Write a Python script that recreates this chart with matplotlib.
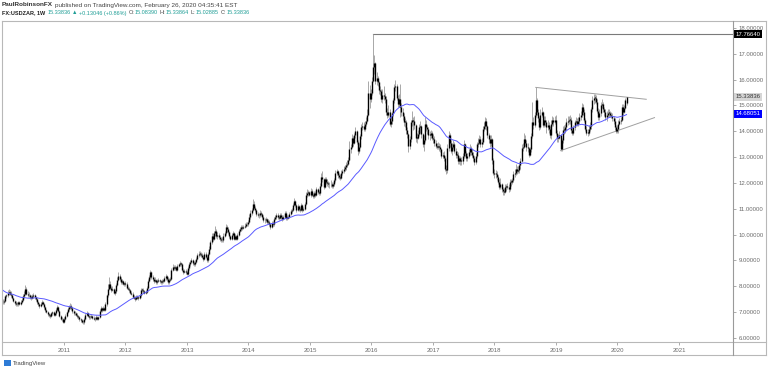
import matplotlib
matplotlib.use("Agg")
import matplotlib.pyplot as plt
import matplotlib.dates as mdates
from matplotlib.lines import Line2D
from matplotlib.patches import Rectangle
import numpy as np
import pandas as pd

plt.rcParams['font.family'] = ['Liberation Sans', 'DejaVu Sans']

# ---------------- data (weekly USDZAR) ----------------
first_week = "2010-01-04"
ma_period = 40

# closes before the visible range, only used to seed the moving average
warmup_closes = [8.95, 8.90, 8.80, 8.65, 8.45, 8.35, 8.25, 8.10, 7.95, 7.85,
                 8.05, 8.20, 8.05, 7.85, 8.10, 7.95, 7.85, 7.75, 7.90, 8.15, 8.05, 7.90, 7.85,
                 7.60, 7.45, 7.50, 7.45, 7.40, 7.35, 7.45, 7.75, 7.60, 7.50, 7.45, 7.60, 7.55,
                 7.50, 7.60, 7.55, 7.40]

close_2010 = [7.38, 7.45, 7.62, 7.65, 7.75, 7.78, 7.72, 7.68, 7.55, 7.42, 7.35, 7.32, 7.30, 7.38, 7.32, 7.40, 7.48,
              7.62, 7.72, 7.90, 7.72, 7.65, 7.68, 7.58, 7.55, 7.62, 7.68, 7.58, 7.50, 7.38, 7.30, 7.25, 7.32, 7.40,
              7.32, 7.20, 7.08, 7.02, 6.92, 6.88, 6.85, 6.95, 7.00, 6.90, 6.95, 7.10, 7.20, 7.05, 6.85, 6.75, 6.72, 6.63]
high_2010 = [7.50, 7.52, 7.68, 7.72, 7.85, 7.88, 7.85, 7.80, 7.72, 7.60, 7.48, 7.42, 7.40, 7.44, 7.42, 7.46, 7.55,
             7.70, 7.82, 8.05, 7.98, 7.80, 7.78, 7.72, 7.65, 7.72, 7.75, 7.72, 7.62, 7.55, 7.42, 7.36, 7.38, 7.48,
             7.45, 7.36, 7.24, 7.12, 7.06, 6.98, 6.94, 7.02, 7.06, 7.05, 7.02, 7.16, 7.28, 7.25, 7.08, 6.90, 6.80, 6.76]
low_2010 = [7.30, 7.32, 7.40, 7.55, 7.60, 7.68, 7.65, 7.60, 7.50, 7.38, 7.28, 7.25, 7.24, 7.25, 7.26, 7.28, 7.35,
            7.42, 7.55, 7.65, 7.65, 7.58, 7.58, 7.52, 7.48, 7.50, 7.55, 7.52, 7.44, 7.32, 7.22, 7.18, 7.20, 7.28,
            7.26, 7.14, 7.02, 6.96, 6.86, 6.82, 6.78, 6.80, 6.90, 6.84, 6.85, 6.90, 7.05, 7.00, 6.80, 6.70, 6.66, 6.58]

close_2011 = [6.75, 6.85, 7.00, 7.12, 7.20, 7.25, 7.15, 7.05, 6.95, 6.95, 6.90, 6.85, 6.80, 6.72, 6.68, 6.62, 6.60,
              6.75, 6.90, 6.95, 6.85, 6.80, 6.82, 6.85, 6.78, 6.75, 6.72, 6.80, 6.75, 6.80, 7.05, 7.15, 7.10, 7.15,
              7.10, 7.30, 7.65, 7.90, 8.10, 7.95, 7.85, 7.90, 7.75, 7.80, 8.05, 8.25, 8.40, 8.30, 8.15, 8.20, 8.10, 8.10]
high_2011 = [6.82, 6.92, 7.06, 7.20, 7.28, 7.35, 7.30, 7.20, 7.10, 7.04, 7.02, 6.96, 6.90, 6.85, 6.78, 6.74, 6.68,
             6.80, 6.96, 7.04, 7.00, 6.90, 6.88, 6.92, 6.90, 6.84, 6.80, 6.88, 6.85, 6.86, 7.12, 7.25, 7.20, 7.22,
             7.20, 7.38, 7.72, 8.10, 8.35, 8.20, 8.00, 8.00, 7.95, 7.88, 8.12, 8.35, 8.55, 8.48, 8.35, 8.30, 8.25, 8.18]
low_2011 = [6.58, 6.70, 6.80, 6.95, 7.06, 7.12, 7.08, 6.98, 6.88, 6.88, 6.84, 6.78, 6.74, 6.66, 6.62, 6.57, 6.55,
            6.56, 6.70, 6.86, 6.80, 6.74, 6.74, 6.76, 6.72, 6.70, 6.66, 6.68, 6.70, 6.70, 6.76, 7.00, 7.02, 7.04,
            7.04, 7.06, 7.25, 7.60, 7.85, 7.88, 7.78, 7.80, 7.70, 7.68, 7.75, 8.00, 8.20, 8.22, 8.08, 8.10, 8.05, 8.02]

close_2012 = [8.10, 7.95, 7.90, 7.85, 7.75, 7.72, 7.60, 7.55, 7.50, 7.60, 7.55, 7.55, 7.65, 7.85, 7.85, 7.80, 7.75,
              7.78, 7.95, 8.20, 8.35, 8.55, 8.35, 8.30, 8.20, 8.25, 8.15, 8.20, 8.25, 8.20, 8.15, 8.22, 8.20, 8.32,
              8.40, 8.30, 8.15, 8.25, 8.30, 8.65, 8.75, 8.70, 8.75, 8.65, 8.80, 8.85, 8.90, 8.85, 8.65, 8.55, 8.60,
              8.55, 8.48]
high_2012 = [8.20, 8.15, 8.00, 7.96, 7.90, 7.82, 7.78, 7.66, 7.62, 7.68, 7.66, 7.62, 7.72, 7.92, 7.95, 7.92, 7.86,
             7.84, 8.02, 8.28, 8.45, 8.65, 8.60, 8.42, 8.36, 8.35, 8.30, 8.28, 8.32, 8.30, 8.25, 8.30, 8.28, 8.40,
             8.48, 8.45, 8.35, 8.32, 8.38, 8.72, 8.85, 8.82, 8.82, 8.80, 8.88, 8.92, 8.98, 8.95, 8.90, 8.70, 8.68,
             8.66, 8.62]
low_2012 = [8.02, 7.90, 7.84, 7.78, 7.70, 7.66, 7.55, 7.50, 7.45, 7.46, 7.50, 7.48, 7.50, 7.60, 7.78, 7.74, 7.70,
            7.70, 7.74, 7.90, 8.15, 8.30, 8.28, 8.22, 8.14, 8.15, 8.08, 8.10, 8.15, 8.14, 8.08, 8.10, 8.14, 8.15,
            8.26, 8.22, 8.08, 8.10, 8.20, 8.25, 8.60, 8.62, 8.64, 8.58, 8.60, 8.74, 8.80, 8.78, 8.58, 8.48, 8.50,
            8.48, 8.42]

close_2013 = [8.70, 8.85, 8.95, 9.00, 8.90, 8.85, 8.95, 9.05, 9.20, 9.25, 9.25, 9.20, 9.15, 9.05, 9.25, 9.15, 9.00,
              9.25, 9.45, 9.70, 9.95, 9.85, 10.05, 10.15, 9.95, 10.00, 9.90, 9.85, 9.80, 9.78, 9.95, 10.05, 10.30,
              10.20, 10.10, 9.95, 9.85, 10.00, 10.05, 9.85, 9.95, 9.85, 10.00, 10.15, 10.20, 10.30, 10.25, 10.30,
              10.35, 10.40, 10.40, 10.50]
high_2013 = [8.78, 8.95, 9.02, 9.10, 9.05, 8.98, 9.02, 9.15, 9.28, 9.35, 9.35, 9.32, 9.28, 9.22, 9.32, 9.32, 9.20,
             9.32, 9.55, 9.80, 10.08, 10.05, 10.15, 10.35, 10.20, 10.10, 10.05, 9.98, 9.92, 9.90, 10.05, 10.15,
             10.40, 10.38, 10.28, 10.15, 10.00, 10.08, 10.15, 10.10, 10.02, 10.00, 10.08, 10.22, 10.30, 10.38,
             10.36, 10.38, 10.45, 10.48, 10.50, 10.58]
low_2013 = [8.45, 8.65, 8.80, 8.90, 8.82, 8.78, 8.80, 8.90, 9.00, 9.12, 9.18, 9.12, 9.08, 8.98, 9.00, 9.08, 8.95,
            8.95, 9.20, 9.40, 9.65, 9.75, 9.80, 9.95, 9.88, 9.85, 9.82, 9.75, 9.72, 9.70, 9.72, 9.90, 10.00, 10.12,
            10.02, 9.88, 9.78, 9.80, 9.95, 9.78, 9.80, 9.78, 9.80, 9.95, 10.10, 10.15, 10.18, 10.20, 10.25, 10.30,
            10.32, 10.35]

close_2014 = [10.70, 10.85, 10.95, 11.20, 11.05, 10.95, 10.80, 10.75, 10.75, 10.85, 10.80, 10.70, 10.55, 10.55,
              10.60, 10.50, 10.50, 10.40, 10.30, 10.45, 10.40, 10.60, 10.70, 10.75, 10.70, 10.65, 10.75, 10.70,
              10.60, 10.70, 10.85, 10.65, 10.65, 10.70, 10.80, 10.90, 10.95, 11.15, 11.30, 11.15, 10.95, 11.10,
              11.00, 10.95, 11.15, 10.95, 11.00, 11.20, 11.55, 11.60, 11.65, 11.55]
high_2014 = [10.80, 10.95, 11.05, 11.38, 11.30, 11.12, 11.00, 10.88, 10.85, 10.95, 10.92, 10.85, 10.75, 10.65,
             10.68, 10.65, 10.60, 10.55, 10.45, 10.52, 10.52, 10.68, 10.78, 10.85, 10.82, 10.78, 10.82, 10.82,
             10.75, 10.78, 10.92, 10.90, 10.75, 10.78, 10.88, 10.98, 11.05, 11.22, 11.40, 11.35, 11.20, 11.18,
             11.15, 11.08, 11.22, 11.20, 11.08, 11.28, 11.65, 11.75, 11.72, 11.70]
low_2014 = [10.45, 10.62, 10.78, 10.90, 10.98, 10.88, 10.72, 10.68, 10.65, 10.70, 10.72, 10.62, 10.48, 10.45,
            10.48, 10.42, 10.42, 10.32, 10.22, 10.25, 10.32, 10.35, 10.55, 10.62, 10.62, 10.58, 10.60, 10.62,
            10.52, 10.55, 10.65, 10.58, 10.58, 10.60, 10.65, 10.75, 10.85, 10.90, 11.10, 11.08, 10.88, 10.90,
            10.92, 10.88, 10.90, 10.88, 10.90, 10.95, 11.15, 11.45, 11.50, 11.48]

close_2015 = [11.70, 11.55, 11.50, 11.60, 11.55, 11.75, 11.65, 11.60, 11.90, 12.25, 12.15, 11.85, 12.15, 12.05,
              12.00, 11.95, 11.95, 11.95, 11.90, 11.95, 12.10, 12.40, 12.45, 12.30, 12.25, 12.20, 12.40, 12.45,
              12.55, 12.60, 12.70, 12.75, 12.90, 13.30, 13.40, 13.75, 13.55, 13.85, 14.00, 13.60, 13.25, 13.40,
              13.80, 14.15, 14.20, 14.10, 14.30, 14.40, 14.65, 15.50, 15.25, 15.50]
high_2015 = [11.80, 11.78, 11.62, 11.70, 11.68, 11.85, 11.82, 11.72, 12.00, 12.40, 12.45, 12.20, 12.25, 12.22,
             12.15, 12.08, 12.05, 12.10, 12.05, 12.05, 12.20, 12.50, 12.55, 12.50, 12.38, 12.35, 12.50, 12.55,
             12.65, 12.70, 12.80, 12.88, 13.02, 13.62, 13.52, 13.90, 13.80, 13.95, 14.15, 14.05, 13.65, 13.55,
             13.90, 14.28, 14.35, 14.35, 14.40, 14.55, 14.85, 15.95, 15.80, 15.65]
low_2015 = [11.45, 11.48, 11.40, 11.42, 11.45, 11.50, 11.58, 11.52, 11.55, 11.85, 12.05, 11.75, 11.80, 11.95,
            11.90, 11.85, 11.82, 11.85, 11.80, 11.82, 11.90, 12.05, 12.30, 12.20, 12.15, 12.10, 12.15, 12.32,
            12.38, 12.48, 12.52, 12.60, 12.68, 12.85, 13.15, 13.35, 13.45, 13.50, 13.75, 13.50, 13.10, 13.15,
            13.35, 13.70, 14.05, 14.00, 14.00, 14.20, 14.35, 14.60, 14.90, 15.15]

close_2016 = [15.95, 16.50, 16.65, 15.95, 16.05, 15.90, 15.60, 15.55, 15.25, 15.40, 15.35, 15.25, 14.75, 14.65,
              14.75, 14.30, 14.40, 14.70, 15.20, 15.70, 15.75, 15.30, 15.05, 15.25, 14.95, 14.75, 14.60, 14.35,
              14.35, 14.05, 13.90, 13.45, 13.70, 14.35, 14.45, 14.40, 14.25, 13.75, 13.75, 13.90, 14.15, 14.20,
              13.90, 13.50, 13.65, 14.30, 14.15, 14.10, 13.85, 13.85, 13.95, 13.75]
high_2016 = [16.10, 17.7664, 16.95, 16.70, 16.30, 16.15, 15.95, 15.75, 15.65, 15.65, 15.75, 15.50, 15.35, 14.90,
             15.00, 14.85, 14.60, 14.80, 15.30, 15.85, 16.00, 15.85, 15.40, 15.45, 15.85, 15.10, 14.90, 14.70,
             14.50, 14.45, 14.15, 13.95, 13.80, 14.45, 14.80, 14.55, 14.60, 14.30, 13.95, 14.05, 14.30, 14.40,
             14.25, 13.95, 13.85, 14.55, 14.45, 14.25, 14.15, 14.00, 14.05, 14.00]
low_2016 = [15.40, 15.90, 16.20, 15.85, 15.80, 15.75, 15.45, 15.40, 15.15, 15.10, 15.20, 15.10, 14.65, 14.50,
            14.55, 14.20, 14.15, 14.30, 14.60, 15.10, 15.55, 15.20, 14.95, 14.95, 14.55, 14.60, 14.45, 14.20,
            14.15, 13.90, 13.75, 13.20, 13.30, 13.60, 14.20, 14.05, 14.10, 13.60, 13.55, 13.70, 13.80, 13.95,
            13.75, 13.40, 13.25, 13.60, 14.00, 13.90, 13.70, 13.65, 13.75, 13.65]

close_2017 = [13.70, 13.55, 13.45, 13.40, 13.45, 13.40, 13.30, 13.05, 13.10, 12.95, 12.55, 12.50, 13.35, 13.85,
              13.55, 13.25, 13.40, 13.50, 13.25, 13.10, 13.10, 12.85, 12.95, 12.85, 12.85, 13.05, 13.50, 13.15,
              12.95, 13.05, 13.20, 13.35, 13.20, 13.10, 12.95, 12.80, 13.05, 13.50, 13.55, 13.70, 13.50, 13.60,
              14.10, 14.20, 14.40, 14.20, 13.85, 13.70, 13.55, 13.70, 12.90, 12.40]
high_2017 = [13.90, 13.80, 13.65, 13.55, 13.60, 13.55, 13.50, 13.35, 13.20, 13.25, 13.05, 12.70, 13.50, 14.00,
             13.95, 13.65, 13.55, 13.65, 13.60, 13.35, 13.25, 13.20, 13.05, 13.05, 13.00, 13.15, 13.65, 13.55,
             13.25, 13.15, 13.30, 13.50, 13.45, 13.30, 13.20, 13.05, 13.15, 13.60, 13.75, 13.85, 13.80, 13.75,
             14.20, 14.35, 14.55, 14.50, 14.25, 13.95, 13.85, 13.85, 13.75, 12.95]
low_2017 = [13.55, 13.45, 13.35, 13.30, 13.30, 13.25, 13.20, 12.95, 12.95, 12.85, 12.45, 12.35, 12.40, 13.25,
            13.40, 13.15, 13.10, 13.30, 13.15, 12.95, 12.95, 12.75, 12.75, 12.70, 12.70, 12.75, 12.95, 13.05,
            12.85, 12.85, 12.95, 13.10, 13.10, 13.00, 12.85, 12.70, 12.75, 12.95, 13.40, 13.50, 13.40, 13.40,
            13.50, 14.00, 14.10, 14.05, 13.75, 13.55, 13.40, 13.45, 12.75, 12.30]

close_2018 = [12.35, 12.35, 12.25, 12.05, 11.85, 11.95, 11.75, 11.70, 11.65, 11.85, 11.85, 11.85, 11.75, 12.05,
              12.05, 12.10, 12.35, 12.40, 12.55, 12.45, 12.50, 12.70, 12.85, 13.35, 13.40, 13.70, 13.55, 13.40,
              13.35, 13.10, 13.30, 13.80, 14.35, 14.25, 14.65, 15.20, 14.75, 14.50, 14.15, 14.65, 14.75, 14.25,
              14.45, 14.35, 14.15, 14.25, 14.10, 13.85, 14.30, 14.45, 14.35, 14.45, 13.95]
high_2018 = [12.55, 12.50, 12.45, 12.30, 12.15, 12.20, 12.00, 11.85, 11.80, 11.95, 11.95, 12.00, 11.95, 12.15,
             12.15, 12.20, 12.45, 12.55, 12.75, 12.65, 12.65, 12.80, 12.95, 13.50, 13.55, 13.95, 13.85, 13.65,
             13.55, 13.40, 13.40, 13.95, 15.15, 14.55, 14.75, 15.70, 15.30, 14.85, 14.60, 14.85, 14.95, 14.80,
             14.60, 14.60, 14.45, 14.45, 14.35, 14.20, 14.45, 14.60, 14.55, 14.60, 14.65]
low_2018 = [12.20, 12.20, 12.10, 11.95, 11.75, 11.75, 11.65, 11.55, 11.55, 11.60, 11.70, 11.75, 11.65, 11.70,
            11.90, 11.95, 12.05, 12.25, 12.30, 12.35, 12.40, 12.40, 12.55, 12.80, 13.25, 13.35, 13.45, 13.25,
            13.20, 13.00, 13.05, 13.20, 13.75, 14.10, 14.15, 14.55, 14.65, 14.35, 14.05, 14.10, 14.55, 14.15,
            14.15, 14.20, 13.95, 14.05, 13.95, 13.75, 13.70, 14.20, 14.20, 14.30, 13.85]

close_2019 = [13.75, 13.75, 13.85, 13.30, 13.65, 14.05, 14.05, 14.15, 14.35, 14.40, 14.45, 14.45, 14.05, 13.95,
              14.15, 14.35, 14.40, 14.30, 14.40, 14.55, 14.65, 14.95, 14.75, 14.45, 14.10, 13.95, 13.95, 14.10,
              14.20, 14.85, 15.20, 15.30, 15.30, 15.15, 14.80, 14.55, 14.70, 15.00, 15.05, 14.85, 14.75, 14.55,
              14.65, 14.70, 14.70, 14.65, 14.60, 14.50, 14.40, 14.15, 14.00, 14.10]
high_2019 = [14.05, 13.90, 14.00, 13.90, 13.75, 14.20, 14.25, 14.30, 14.50, 14.60, 14.60, 14.65, 14.55, 14.15,
             14.25, 14.45, 14.55, 14.50, 14.55, 14.70, 14.80, 15.10, 15.05, 14.85, 14.50, 14.20, 14.10, 14.25,
             14.35, 14.95, 15.35, 15.45, 15.45, 15.40, 15.25, 14.90, 14.85, 15.15, 15.25, 15.15, 14.95, 14.85,
             14.80, 14.85, 14.85, 14.80, 14.75, 14.70, 14.60, 14.50, 14.25, 14.25]
low_2019 = [13.60, 13.60, 13.70, 13.25, 13.25, 13.55, 13.90, 13.95, 14.05, 14.25, 14.30, 14.30, 13.95, 13.85,
            13.85, 14.05, 14.25, 14.20, 14.20, 14.30, 14.45, 14.55, 14.65, 14.35, 14.00, 13.85, 13.80, 13.85,
            14.00, 14.10, 14.75, 15.05, 15.10, 15.05, 14.70, 14.45, 14.45, 14.60, 14.90, 14.75, 14.60, 14.45,
            14.40, 14.55, 14.55, 14.55, 14.50, 14.40, 14.30, 14.05, 13.95, 13.95]

close_2020 = [14.30, 14.40, 14.45, 14.95, 14.75, 14.90, 15.2079, 15.33836]
high_2020 = [14.45, 14.50, 14.55, 15.05, 15.05, 15.00, 15.30, 15.33864]
low_2020 = [13.95, 14.25, 14.30, 14.40, 14.65, 14.70, 14.85, 15.02885]
last_open = 15.08390

# header values
last_close = 15.33836
last_change = 0.13046
last_change_pct = 0.86
last_high = 15.33864
last_low = 15.02885
ma_last_label = 14.68051
peak_level = 17.76640
peak_date = "2016-01-11"

# hand-drawn trend lines (date, price)
upper_trend_dates = ["2018-09-03", "2020-06-20"]
upper_trend_prices = [15.70, 15.24]
lower_trend_dates = ["2019-01-28", "2020-08-08"]
lower_trend_prices = [13.25, 14.53]

y_ticks = [6, 7, 8, 9, 10, 11, 12, 13, 14, 15, 16, 17, 18]
x_tick_years = [2011, 2012, 2013, 2014, 2015, 2016, 2017, 2018, 2019, 2020, 2021]

# ---------------- assemble series ----------------
closes = np.array(close_2010 + close_2011 + close_2012 + close_2013 + close_2014 + close_2015 +
                  close_2016 + close_2017 + close_2018 + close_2019 + close_2020)
highs = np.array(high_2010 + high_2011 + high_2012 + high_2013 + high_2014 + high_2015 +
                 high_2016 + high_2017 + high_2018 + high_2019 + high_2020)
lows = np.array(low_2010 + low_2011 + low_2012 + low_2013 + low_2014 + low_2015 +
                low_2016 + low_2017 + low_2018 + low_2019 + low_2020)
assert len(closes) == len(highs) == len(lows), (len(closes), len(highs), len(lows))

opens = np.r_[warmup_closes[-1], closes[:-1]]
opens[-1] = last_open
dates = pd.date_range(first_week, periods=len(closes), freq="7D")
xs = mdates.date2num(dates.to_pydatetime())

ma_all = pd.Series(np.r_[warmup_closes, closes]).rolling(ma_period).mean().values
ma = ma_all[len(warmup_closes):]

# ---------------- figure ----------------
W, H = 768, 370
fig = plt.figure(figsize=(W / 100, H / 100), dpi=100)
fig.patch.set_facecolor("white")

def fx(px):
    return px / W

def fy(py):
    return 1 - py / H

ax_l, ax_r, ax_t, ax_b = 2, 733, 21, 342
ax = fig.add_axes([fx(ax_l), fy(ax_b), fx(ax_r - ax_l), (ax_b - ax_t) / H])
ax.set_facecolor("white")

x_left = mdates.date2num(pd.Timestamp("2009-12-30"))
x_right = mdates.date2num(pd.Timestamp("2021-11-17"))
ax.set_xlim(x_left, x_right)
ax.set_ylim(5.845, 18.27)

# wicks then bodies
ax.vlines(xs, lows, highs, color="#a8a8a8", linewidth=0.7, zorder=2)
body_lo = np.minimum(opens, closes)
body_hi = np.maximum(opens, closes)
body_hi = np.maximum(body_hi, body_lo + 0.03)
ax.vlines(xs, body_lo, body_hi, color="#000000", linewidth=1.0, zorder=3)

# moving average
ax.plot(xs, ma, color="#5a5aff", linewidth=0.7, zorder=4)

# peak horizontal line
px = mdates.date2num(pd.Timestamp(peak_date))
ax.plot([px, x_right], [peak_level, peak_level], color="#7a7a7a", linewidth=0.8, zorder=1)

# triangle
ax.plot(mdates.date2num(pd.to_datetime(upper_trend_dates).to_pydatetime()), upper_trend_prices,
        color="#a0a0a0", linewidth=0.7, zorder=1)
ax.plot(mdates.date2num(pd.to_datetime(lower_trend_dates).to_pydatetime()), lower_trend_prices,
        color="#a0a0a0", linewidth=0.7, zorder=1)

# axes styling
for s in ["top", "left", "bottom", "right"]:
    ax.spines[s].set_visible(False)

ax.yaxis.tick_right()
ax.set_yticks(y_ticks)
ax.set_yticklabels([f"{v:.5f}" for v in y_ticks])
ax.tick_params(axis="y", which="both", length=2.5, width=0.5, colors="#8a8a8a", labelsize=4.3,
               labelcolor="#6b6b6b", pad=1.5)

xt = [mdates.date2num(pd.Timestamp(f"{y}-01-01")) for y in x_tick_years]
ax.set_xticks(xt)
ax.set_xticklabels([str(y) for y in x_tick_years])
ax.tick_params(axis="x", which="both", length=2, width=0.5, colors="#8a8a8a", labelsize=4.3,
               labelcolor="#6b6b6b", pad=2.5)

# frame lines in figure coordinates
frame_col = "#b8b8b8"
def hline(y, x0, x1, col=frame_col, lw=0.8):
    fig.add_artist(Line2D([fx(x0), fx(x1)], [fy(y), fy(y)], color=col, linewidth=lw))

def vline(x, y0, y1, col=frame_col, lw=0.8):
    fig.add_artist(Line2D([fx(x), fx(x)], [fy(y0), fy(y1)], color=col, linewidth=lw))

hline(20.5, 1.5, 766)
hline(342, 1.5, 766)
hline(355, 1.5, 766)
vline(1.5, 20.5, 355)
vline(733, 20.5, 355, col="#9a9a9a")
vline(766, 20.5, 355)

# right-hand price labels
trans = ax.get_yaxis_transform()
def price_box(val, text, fc, tc):
    ax.text(1.004, val, text, transform=trans, ha="left", va="center", fontsize=4.3, color=tc,
            zorder=10, clip_on=False, bbox=dict(boxstyle="square,pad=0.25", fc=fc, ec="none"))

price_box(peak_level, f"{peak_level:.5f}", "#000000", "white")
price_box(last_close, f"{last_close:.5f}", "#d6d6d6", "#333333")
price_box(ma_last_label, f"{ma_last_label:.5f}", "#0000ff", "white")

# header lines (pieces placed one after another, gaps in pixels)
teal = "#1f9e96"
fig.canvas.draw()
renderer = fig.canvas.get_renderer()

def runs(x_px, y_px, parts, size, sp):
    x = x_px
    for s, col, wt, gap in parts:
        t = fig.text(fx(x), fy(y_px), s, fontsize=size, color=col, fontweight=wt, ha="left",
                     va="center", family=["Liberation Sans", "DejaVu Sans"])
        bb = t.get_window_extent(renderer)
        x = bb.x1 + gap * sp

runs(2, 5, [("PaulRobinsonFX", "#333333", "bold", 1),
            ("published on TradingView.com, February 26, 2020 04:35:41 EST", "#444444", "normal", 0)],
     size=4.6, sp=1.8)
runs(2, 13, [("FX:USDZAR, 1W", "#222222", "bold", 1.5),
             (f"{last_close:.5f}", teal, "normal", 1),
             ("\u25b2", teal, "normal", 1),
             (f"+{last_change:.5f} (+{last_change_pct:.2f}%)", teal, "normal", 1),
             ("O:", "#444444", "normal", 0.4), (f"{last_open:.5f}", teal, "normal", 1),
             ("H:", "#444444", "normal", 0.4), (f"{last_high:.5f}", teal, "normal", 1),
             ("L:", "#444444", "normal", 0.4), (f"{last_low:.5f}", teal, "normal", 1),
             ("C:", "#444444", "normal", 0.4), (f"{last_close:.5f}", teal, "normal", 0)],
     size=4.0, sp=1.6)

# TradingView footer
fig.add_artist(Rectangle((fx(4), fy(366)), fx(7), 6 / H, transform=fig.transFigure,
                         facecolor="#2e7bd6", edgecolor="none"))
fig.text(fx(12.5), fy(363), "TradingView", fontsize=4.3, color="#444444", ha="left", va="center",
         family=["Liberation Sans", "DejaVu Sans"])

fig.savefig("out.png", dpi=100, facecolor="white")
